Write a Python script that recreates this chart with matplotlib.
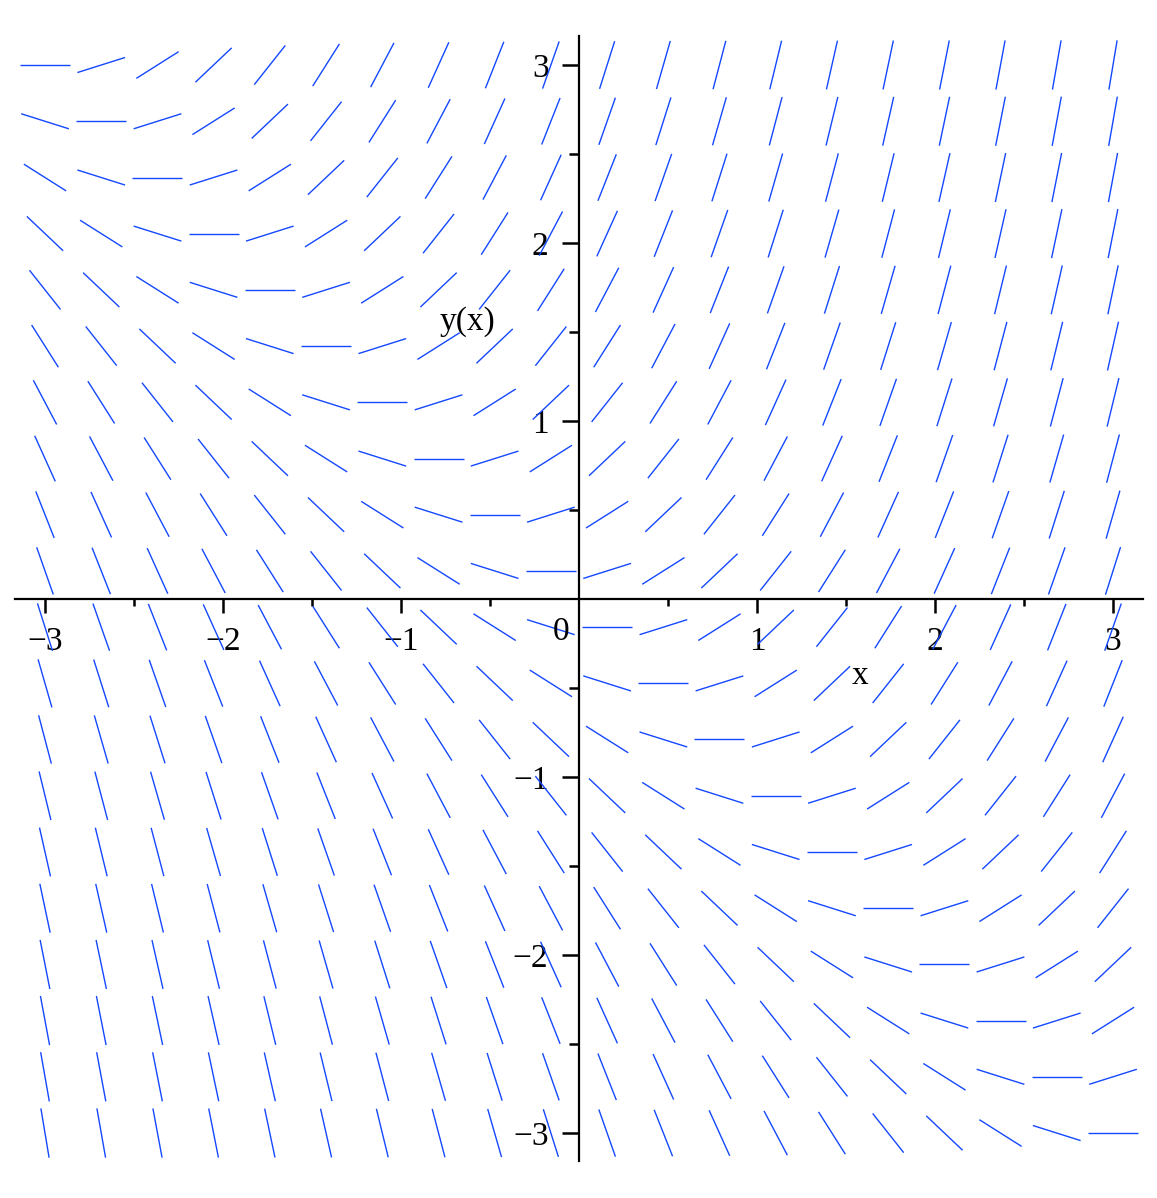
import numpy as np
import matplotlib
matplotlib.use("Agg")
import matplotlib.pyplot as plt
from matplotlib.collections import LineCollection
from matplotlib.ticker import FixedLocator

# direction field of dy/dx = x + y on a 20 x 20 grid
grid_x = [-3.0, -2.684, -2.368, -2.053, -1.737, -1.421, -1.105, -0.789, -0.474, -0.158,
          0.158, 0.474, 0.789, 1.105, 1.421, 1.737, 2.053, 2.368, 2.684, 3.0]
grid_y = list(grid_x)

major_ticks = [-3, -2, -1, 1, 2, 3]
minor_ticks = [-2.5, -1.5, -0.5, 0.5, 1.5, 2.5]
tick_labels = ["\u22123", "\u22122", "\u22121", "1", "2", "3"]


def rhs(x, y):
    return x + y


seg_half = 25 / 178  # fixed segment length (screen), same scale on both axes
BLUE = '#1448ff'

plt.rcParams['font.family'] = ['Liberation Serif', 'DejaVu Serif']

fig = plt.figure(figsize=(11.57, 11.98), dpi=100)
ax = fig.add_axes([15 / 1157, 37 / 1198, 1128 / 1157, 1125 / 1198])

segs = []
for xv in grid_x:
    for yv in grid_y:
        th = np.arctan(rhs(xv, yv))
        dx, dy = seg_half * np.cos(th), seg_half * np.sin(th)
        segs.append([(xv - dx, yv - dy), (xv + dx, yv + dy)])
ax.add_collection(LineCollection(segs, colors=BLUE, linewidths=1.0))

ax.set_xlim(-3.1685, 3.1685)
ax.set_ylim(-3.157, 3.163)

# Maple style axes through the origin
for s in ['top', 'right']:
    ax.spines[s].set_visible(False)
for s in ['left', 'bottom']:
    ax.spines[s].set_position(('data', 0))
    ax.spines[s].set_linewidth(1.6)

ax.xaxis.set_major_locator(FixedLocator(major_ticks))
ax.yaxis.set_major_locator(FixedLocator(major_ticks))
ax.set_xticklabels(tick_labels)
ax.set_yticklabels(tick_labels)
ax.xaxis.set_minor_locator(FixedLocator(minor_ticks))
ax.yaxis.set_minor_locator(FixedLocator(minor_ticks))

ax.tick_params(axis='x', which='major', direction='out', length=10, width=1.8,
               labelsize=24, pad=10)
ax.tick_params(axis='x', which='minor', direction='out', length=5, width=1.8)
ax.tick_params(axis='y', which='major', direction='out', length=12, width=1.8,
               labelsize=24, pad=10)
ax.tick_params(axis='y', which='minor', direction='out', length=7, width=1.8)

ax.text(-0.101, -0.185, "0", fontsize=24, ha='center', va='center')
ax.text(1.579, -0.433, "x", fontsize=24, ha='center', va='center')
ax.text(-0.629, 1.556, "y(x)", fontsize=24, ha='center', va='center')

fig.savefig('out.png', dpi=100)
